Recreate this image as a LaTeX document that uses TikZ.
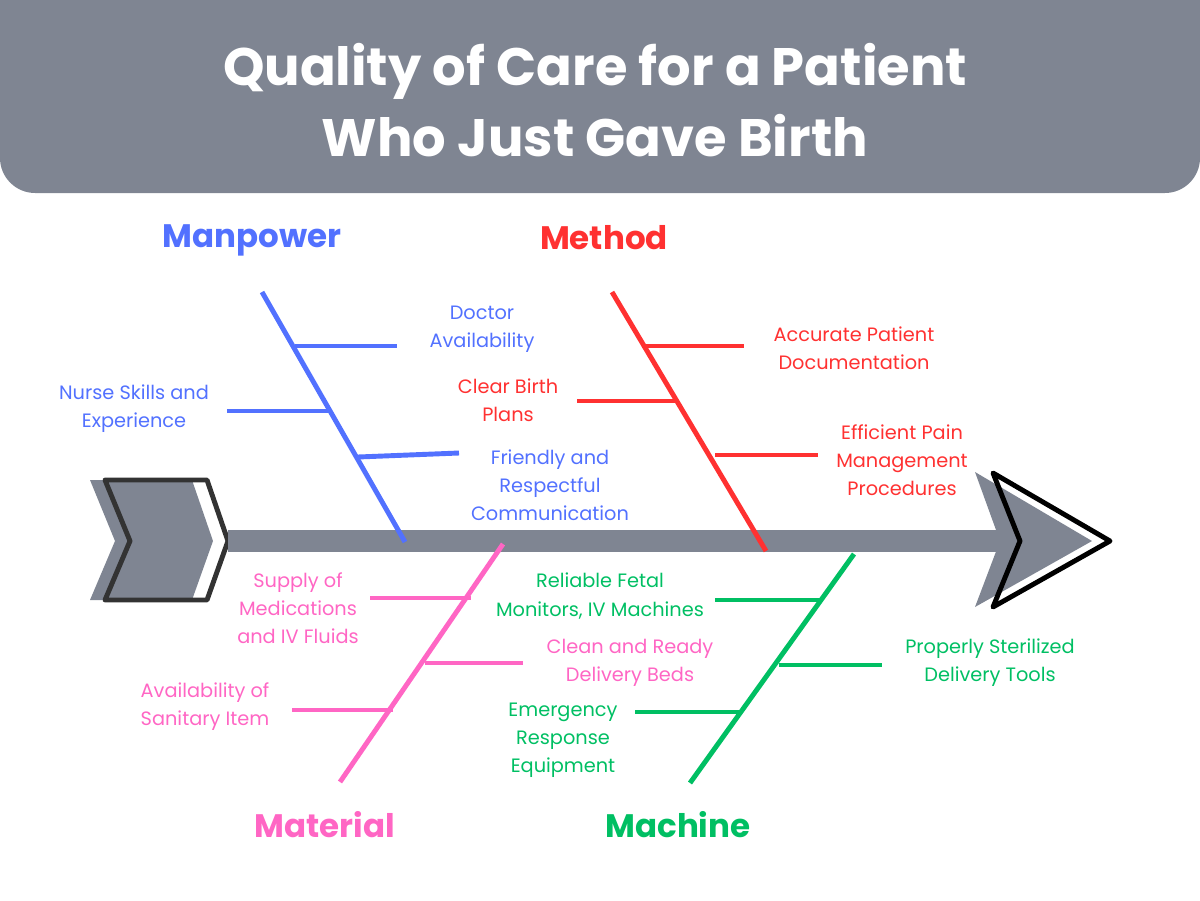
\documentclass[tikz,border=0pt]{standalone}
\usepackage{fontspec}
\setmainfont{Poppins}
\usetikzlibrary{math}
\definecolor{bannergray}{HTML}{7F8592}
\definecolor{tailgray}{HTML}{333333}
\definecolor{myblue}{HTML}{5271FF}
\definecolor{myred}{HTML}{FF3131}
\definecolor{mypink}{HTML}{FF66C4}
\definecolor{mygreen}{HTML}{00BF63}

\tikzset{
  bone/.style={line width=2.8pt},
  cause/.style={align=center, inner sep=0pt, font=\fontsize{11}{16}\selectfont},
  category/.style={inner sep=0pt, font=\fontsize{18.5}{20}\selectfont\bfseries},
}

\begin{document}
\begin{tikzpicture}[x=0.02cm, y=-0.02cm]
\tikzmath{
\sy=541;
\sh=11;
}
\useasboundingbox (0,0) rectangle (1200,900);

% banner
\begin{scope}
\clip (0,0) rectangle (1200,900);
\fill[bannergray, rounded corners=20pt] (0,-60) rectangle (1200,193);
\end{scope}
\node[white, align=center, font=\fontsize{30}{40}\selectfont\bfseries] (title) at (595,100) {Quality of Care for a Patient\\Who Just Gave Birth};

% tail
\fill[bannergray] (90,480) -- (192,480) -- (213,\sy) -- (192,600) -- (90,600) -- (115,\sy) -- cycle;
\draw[tailgray, line width=2.8pt, line join=round] (105,480) -- (207,480) -- (228,\sy) -- (207,600) -- (105,600) -- (130,\sy) -- cycle;

% spine
\fill[bannergray] (228,\sy-\sh) rectangle (1010,\sy+\sh);

% head
\fill[bannergray] (975,472) -- (1092,\sy) -- (975,607) -- (1000,\sy) -- cycle;
\draw[black, line width=2.8pt, line join=round] (993,473) -- (1110,\sy) -- (993,607) -- (1020,\sy) -- cycle;

% manpower
\draw[myblue, bone] (262,292) -- (405,542);
\draw[myblue, bone] (295,346) -- (397,346);
\draw[myblue, bone] (227,411) -- (330,411);
\draw[myblue, bone] (358,457) -- (459,453);
\node[category, myblue] (manpower) at (252,240) {Manpower};
\node[cause, myblue] (doctor) at (482,329) {Doctor\\Availability};
\node[cause, myblue] (nurse) at (134,409) {Nurse Skills and\\Experience};
\node[cause, myblue] (friendly) at (550,485) {Friendly and\\Respectful\\Communication};

% method
\draw[myred, bone] (612,292) -- (766,551);
\draw[myred, bone] (642,346) -- (744,346);
\draw[myred, bone] (577,401) -- (676,401);
\draw[myred, bone] (715,455) -- (818,455);
\node[category, myred] (method) at (604,238) {Method};
\node[cause, myred] (accurate) at (854,348) {Accurate Patient\\Documentation};
\node[cause, myred] (clear) at (508,400) {Clear Birth\\Plans};
\node[cause, myred] (efficient) at (902,460) {Efficient Pain\\Management\\Procedures};

% material
\draw[mypink, bone] (503,544) -- (340,782);
\draw[mypink, bone] (370,598) -- (471,598);
\draw[mypink, bone] (425,663) -- (523,663);
\draw[mypink, bone] (292,710) -- (393,710);
\node[category, mypink] (material) at (325,825) {Material};
\node[cause, mypink] (supply) at (298,608) {Supply of\\Medications\\and IV Fluids};
\node[cause, mypink] (sanitary) at (205,707) {Availability of\\Sanitary Item};
\node[cause, mypink] (beds) at (630,663) {Clean and Ready\\Delivery Beds};

% machine
\draw[mygreen, bone] (854,554) -- (690,783);
\draw[mygreen, bone] (715,600) -- (820,600);
\draw[mygreen, bone] (779,665) -- (882,665);
\draw[mygreen, bone] (635,712) -- (740,712);
\node[category, mygreen] (machine) at (678,825) {Machine};
\node[cause, mygreen] (fetal) at (600,596) {Reliable Fetal\\Monitors, IV Machines};
\node[cause, mygreen] (tools) at (990,663) {Properly Sterilized\\Delivery Tools};
\node[cause, mygreen] (emergency) at (563,740) {Emergency\\Response\\Equipment};
\end{tikzpicture}
\end{document}
